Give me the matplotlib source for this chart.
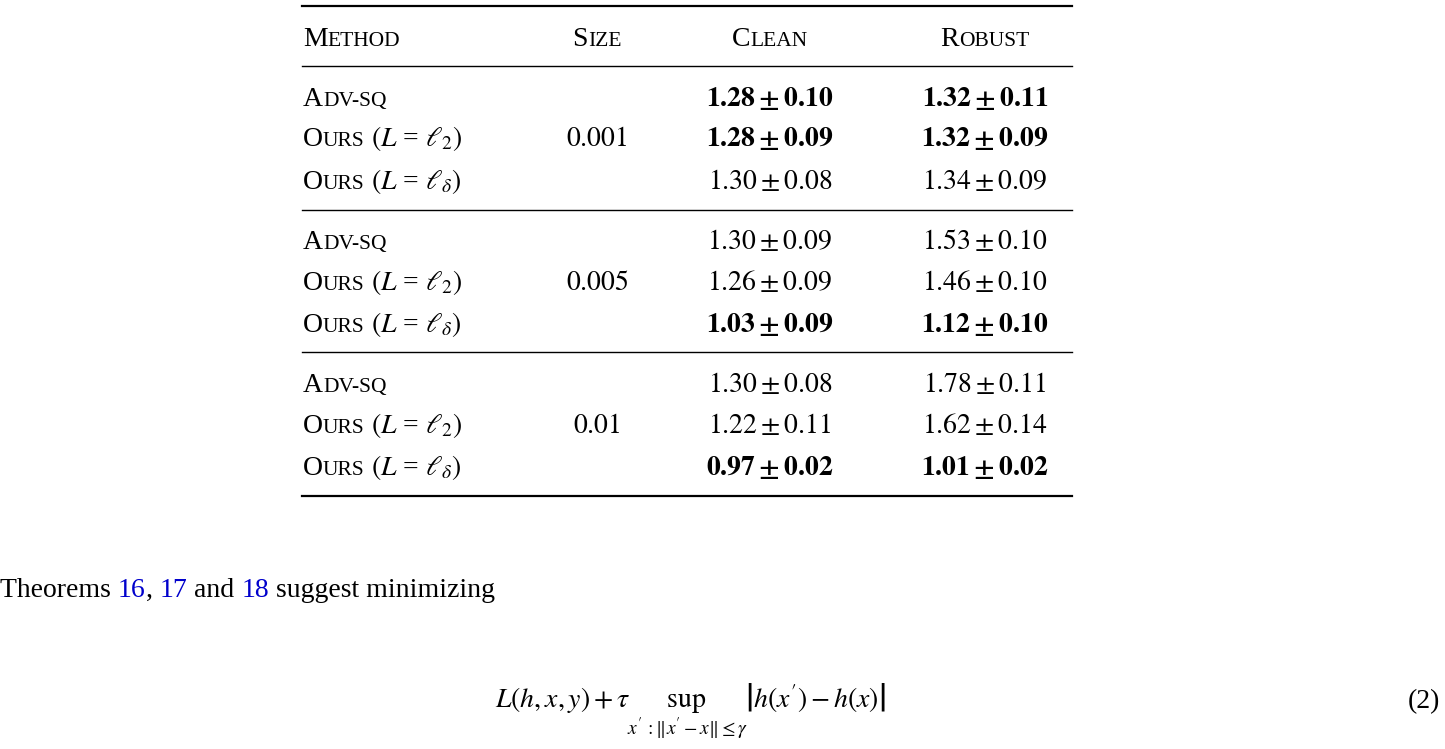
import matplotlib
matplotlib.use("Agg")
import matplotlib.pyplot as plt
from matplotlib.lines import Line2D

plt.rcParams['font.family'] = ['Liberation Serif', 'DejaVu Serif']
plt.rcParams['mathtext.fontset'] = 'stix'

W, H = 1445, 749
methods = ["ADV-SQ", "OURS2", "OURSd"] * 3
sizes = ["0.001", "0.005", "0.01"]
clean = ["1.28 ± 0.10", "1.28 ± 0.09", "1.30 ± 0.08",
         "1.30 ± 0.09", "1.26 ± 0.09", "1.03 ± 0.09",
         "1.30 ± 0.08", "1.22 ± 0.11", "0.97 ± 0.02"]
robust = ["1.32 ± 0.11", "1.32 ± 0.09", "1.34 ± 0.09",
          "1.53 ± 0.10", "1.46 ± 0.10", "1.12 ± 0.10",
          "1.78 ± 0.11", "1.62 ± 0.14", "1.01 ± 0.02"]
bold_clean = [1, 1, 0, 0, 0, 1, 0, 0, 1]
bold_robust = [1, 1, 0, 0, 0, 1, 0, 0, 1]

fig = plt.figure(figsize=(W / 100, H / 100), dpi=100)
r = fig.canvas.get_renderer()
FS = 20
SC = 15.5

def P(x, y):
    return x / W, 1 - y / H

def txt(x, y, s, ha='left', size=FS, **kw):
    t = fig.text(*P(x, y), s, ha=ha, va='baseline', fontsize=size, **kw)
    return t

def width(t):
    return t.get_window_extent(r).width

def smallcaps(x, y, word, ha='left'):
    parts = [(word[0], FS), (word[1:].upper(), SC)]
    # measure
    tmp = [fig.text(0, 0, s, fontsize=sz) for s, sz in parts]
    tot = sum(width(t) for t in tmp)
    for t in tmp:
        t.remove()
    if ha == 'center':
        x -= tot / 2
    for s, sz in parts:
        t = txt(x, y, s, size=sz)
        x += width(t)
    return x

def hline(y, lw):
    fig.add_artist(Line2D([302 / W, 1072 / W], [1 - y / H] * 2, color='black', lw=lw))

hline(6, 1.6)
hline(66, 1.0)
hline(210, 1.0)
hline(352, 1.0)
hline(496, 1.6)

hy = 46
smallcaps(303, hy, "Method")
smallcaps(597, hy, "Size", ha='center')
smallcaps(770, hy, "Clean", ha='center')
smallcaps(985, hy, "Robust", ha='center')

rows_y = [106, 146, 189, 249, 290, 332, 392, 433, 475]
for i, (m, c, rb) in enumerate(zip(methods, clean, robust)):
    y = rows_y[i]
    if m == "ADV-SQ":
        smallcaps(303, y, "Adv-sq")
    else:
        x = smallcaps(303, y, "Ours")
        sub = r"\ell_2" if m == "OURS2" else r"\ell_\delta"
        txt(x + 6, y, r"$(L$ = $" + sub + r")$")
    cs = c.replace(" ± ", r" \pm ")
    rs = rb.replace(" ± ", r" \pm ")
    txt(770, y, (r"$\mathbf{%s}$" if bold_clean[i] else r"$%s$") % cs, ha='center')
    txt(985, y, (r"$\mathbf{%s}$" if bold_robust[i] else r"$%s$") % rs, ha='center')
for j, s in enumerate(sizes):
    txt(597, rows_y[3 * j + 1], r"$%s$" % s, ha='center')

# paragraph
y = 597
x = 0
for s, col in [("Theorems ", 'black'), ("16", '#0000cc'), (", ", 'black'), ("17", '#0000cc'),
               (" and ", 'black'), ("18", '#0000cc'), (" suggest minimizing", 'black')]:
    t = txt(x, y, s, color=col)
    x += width(t)

txt(690, 708, r"$L(h,x,y) + \tau \sup_{x':\|x'-x\|\leq\gamma} \left| h(x') - h(x) \right|$",
    ha='center')
txt(1440, 708, "(2)", ha='right')

fig.savefig("out.png", dpi=100)
